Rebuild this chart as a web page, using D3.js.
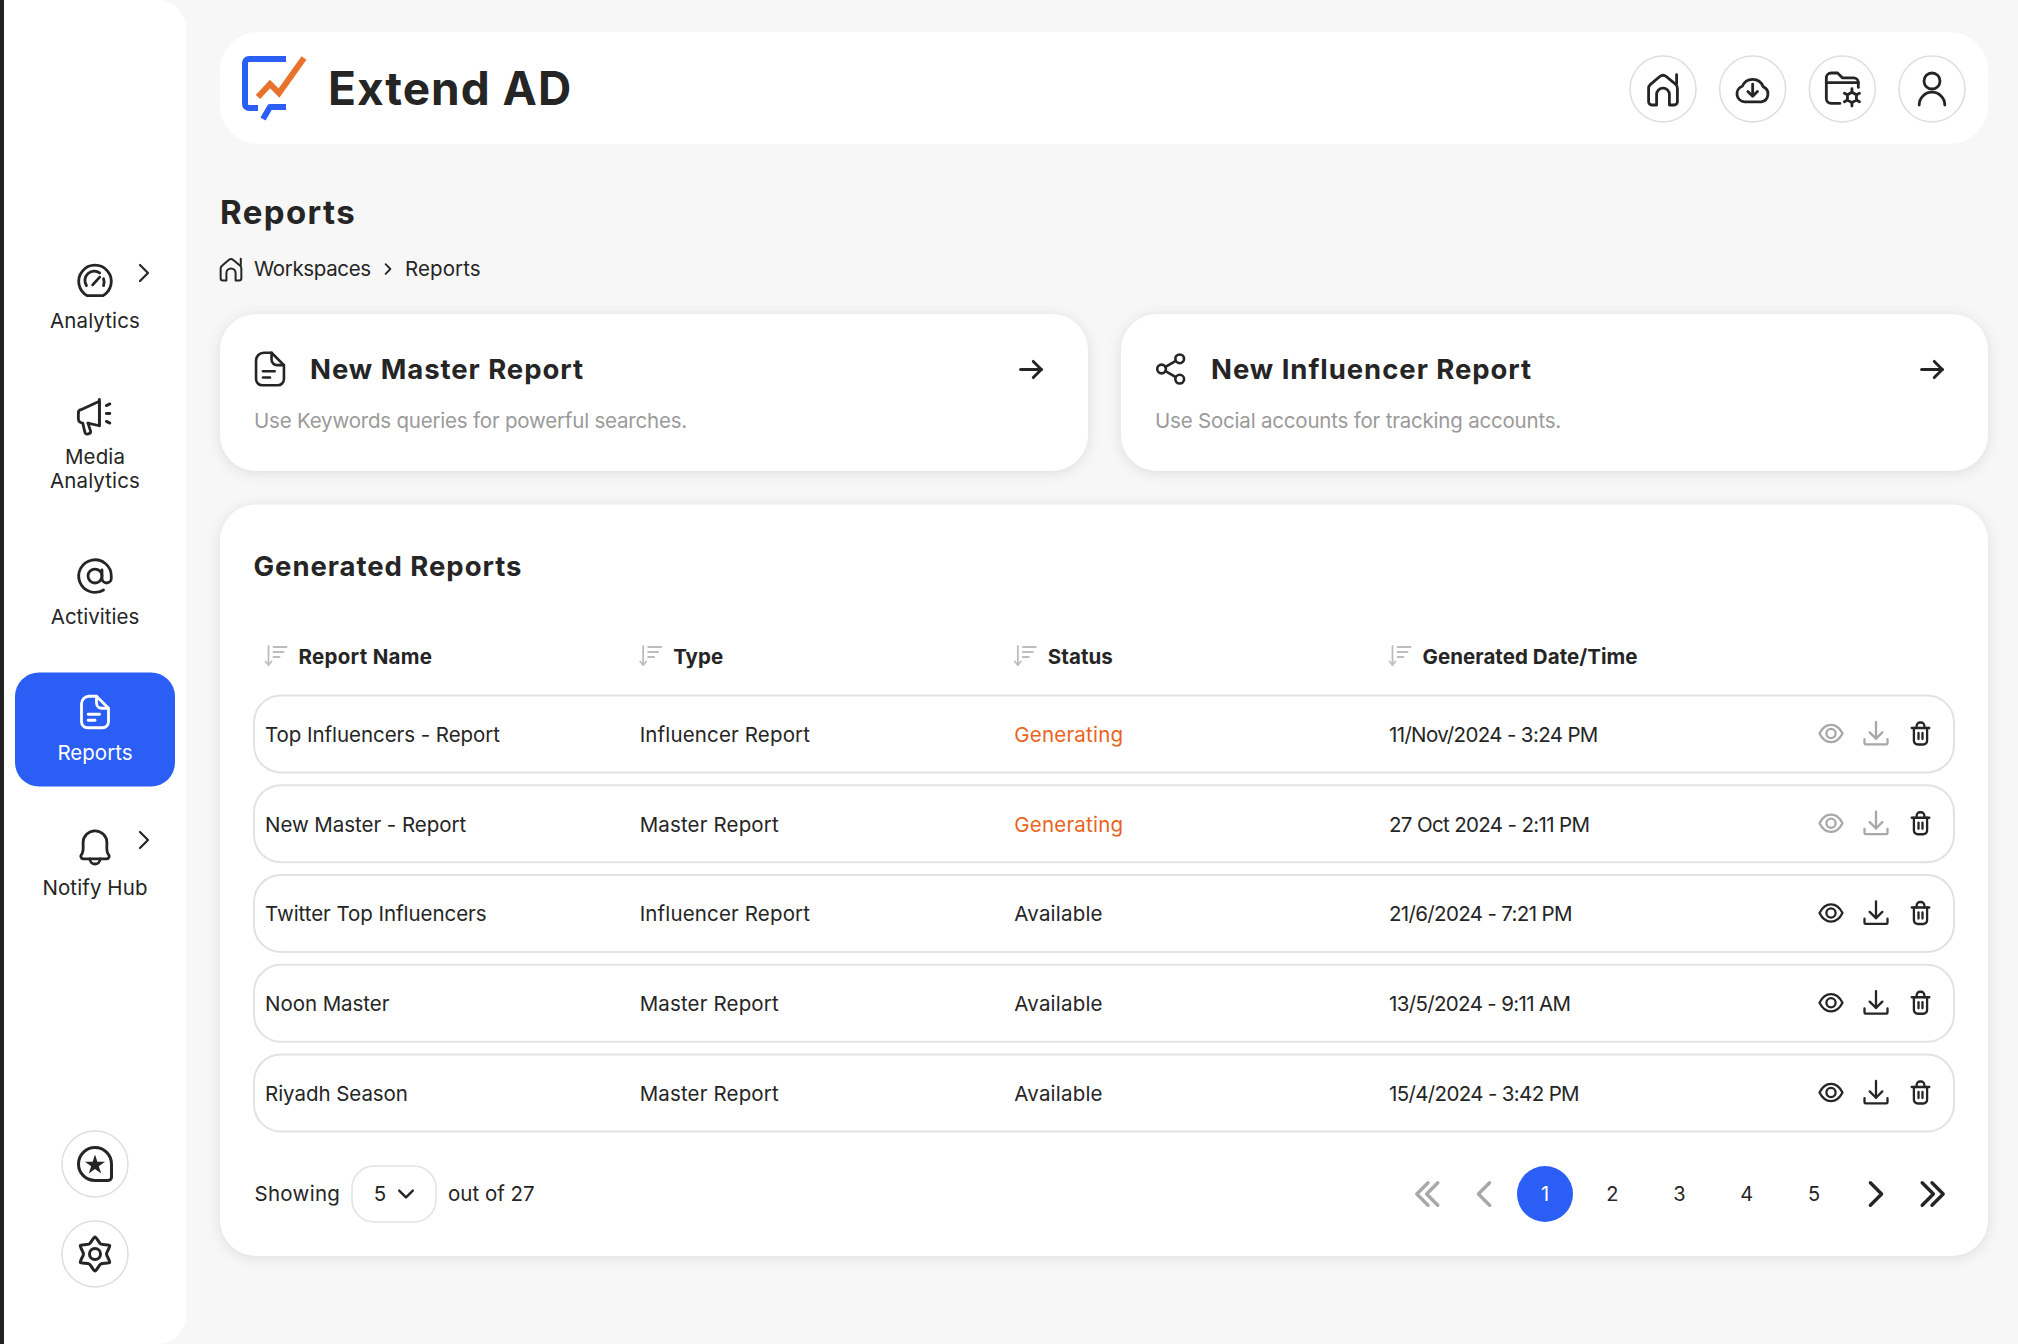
<!DOCTYPE html>
<html lang="en">
<head>
    <meta charset="UTF-8">
    <title>Extend AD - Reports</title>
    <script src="https://d3js.org/d3.v7.min.js"></script>
    <style>
        html, body { margin:0; padding:0; background:#f7f7f7; overflow:hidden; }
        svg { display:block; font-family:Inter, sans-serif; }
        .card { fill:#fff; filter:drop-shadow(0 2px 7px rgba(0,0,0,.10)); }
        .ico { fill:none; stroke-linecap:round; stroke-linejoin:round; }
    </style>
</head>
<body>
    <div id="app"></div>
    <script>
        // table content
        const columnLabels = ['Report Name', 'Type', 'Status', 'Generated Date/Time'];
        const reportNames = ['Top Influencers - Report', 'New Master - Report', 'Twitter Top Influencers', 'Noon Master', 'Riyadh Season'];
        const reportTypes = ['Influencer Report', 'Master Report', 'Influencer Report', 'Master Report', 'Master Report'];
        const reportStatus = ['Generating', 'Generating', 'Available', 'Available', 'Available'];
        const reportDates = ['11/Nov/2024 - 3:24 PM', '27 Oct 2024 - 2:11 PM', '21/6/2024 - 7:21 PM', '13/5/2024 - 9:11 AM', '15/4/2024 - 3:42 PM'];
        const pageLabels = ['1', '2', '3', '4', '5'];
        const headerIcons = ['home', 'cloud', 'folder', 'user'];

        const INK = '#252525', BLUE = '#2a5ef5', ORANGE = '#e8641b', MUTED = '#a8a8a8', LINE = '#e2e2e2';

        // icons drawn on a 24x24 box
        const icons = {
            home: ['M3 20V11.5C3 10.4 3.5 9.7 4.2 9.1L10 4.2C11.2 3.2 12.8 3.2 14 4.2L20 9.1C20.7 9.7 21 10.4 21 11.5V20A2 2 0 0 1 19 22H16V15.5A4 4 0 0 0 8 15.5V22H5A2 2 0 0 1 3 20Z', 'M20.5 3V8.5'],
            cloud: ['M7 20A5 5 0 0 1 5.5 10.3A7 7 0 0 1 18.5 10.5A5 5 0 0 1 17.5 20Z', 'M12 9V16M9 13.5L12 16.5L15 13.5'],
            folder: ['M10.5 21H5A3 3 0 0 1 2 18V5A3 3 0 0 1 5 2H9L12 5H19A3 3 0 0 1 22 8V11', 'M2 8H22', 'M18 14L20.8 15.6V18.9L18 20.5L15.2 18.9V15.6Z', 'M18 11.8V14M18 20.5V22.7M13.3 14.6L15.2 15.6M20.8 18.9L22.7 20M13.3 20L15.2 18.9M20.8 15.6L22.7 14.6'],
            user: ['M12 2A5 5 0 1 0 12 12A5 5 0 1 0 12 2Z', 'M4 22A8 8 0 0 1 20 22'],
            gauge: ['M7 21.5A10.5 10.5 0 1 1 17 21.5Z', 'M6.5 15A6 6 0 0 1 15 6.8', 'M17.5 10.5A6 6 0 0 1 17.5 15', 'M10.5 14.5L15 9.5'],
            mega: ['M2.5 9.5C2.5 8.5 3 8 4 7.8L14.5 3V17L8 15.5', 'M2.5 9.5V13C2.5 14.5 3.5 15.3 5 15.5L6.3 21C6.6 22.3 9.8 21.8 9.5 20.2L8 15.5', 'M14.5 2V17', 'M18.5 5.5L20.5 4.5M18.5 10H20.5M18.5 14.5L20.5 15.5'],
            at: ['M12 7.5A4.5 4.5 0 1 0 12 16.5A4.5 4.5 0 1 0 12 7.5Z', 'M16.5 8V13.5A3 3 0 0 0 22.5 13.5V12A10.5 10.5 0 1 0 17.5 21'],
            doc: ['M8 1.5H13L21 9.5V18.5A4 4 0 0 1 17 22.5H7A4 4 0 0 1 3 18.5V6.5A5 5 0 0 1 8 1.5Z', 'M13 1.5V6A3.5 3.5 0 0 0 16.5 9.5H21', 'M7.5 13.5H15', 'M7.5 17.5H12'],
            bell: ['M4 16.5C5.5 15 5 12.5 5 9.5A7 7 0 0 1 19 9.5C19 12.5 18.5 15 20 16.5C20.8 17.5 20 19 19 19H5C4 19 3.2 17.5 4 16.5Z', 'M9 19A3 3 0 0 0 15 19'],
            badge: ['M12 2A10 10 0 0 0 12 22H20A2 2 0 0 0 22 20V12A10 10 0 0 0 12 2Z'],
            share: ['M18 2A3 3 0 1 0 18 8A3 3 0 1 0 18 2Z', 'M18 16A3 3 0 1 0 18 22A3 3 0 1 0 18 16Z', 'M5.5 9A3 3 0 1 0 5.5 15A3 3 0 1 0 5.5 9Z', 'M8.2 10.6L15.3 6.4', 'M8.2 13.4L15.3 17.6'],
            arrow: ['M3 12H21', 'M14 5L21 12L14 19'],
            chev: ['M8 4L16 12L8 20'],
            chevL: ['M16 4L8 12L16 20'],
            dbl: ['M5 4L13 12L5 20', 'M12 4L20 12L12 20'],
            dblL: ['M19 4L11 12L19 20', 'M12 4L4 12L12 20'],
            down: ['M4 8L12 16L20 8'],
            eye: ['M2 12C5 6 9 4.5 12 4.5S19 6 22 12C19 18 15 19.5 12 19.5S5 18 2 12Z', 'M12 8A4 4 0 1 0 12 16A4 4 0 1 0 12 8Z'],
            save: ['M12 2V16.5', 'M6.5 11L12 16.5L17.5 11', 'M2 17V20.5A1 1 0 0 0 3 21.5H21A1 1 0 0 0 22 20.5V17'],
            trash: ['M4 7H20', 'M6 7V18.5A3.5 3.5 0 0 0 9.5 22H14.5A3.5 3.5 0 0 0 18 18.5V7', 'M8.5 7V5A3 3 0 0 1 11.5 2H12.5A3 3 0 0 1 15.5 5V7', 'M10.2 11.5V17', 'M13.8 11.5V17'],
            sort: ['M5 2V21', 'M2 17.5L5 21L8 17.5', 'M10 3H23', 'M10 8H20', 'M10 13H16']
        };

        const svg = d3.select('#app').append('svg').attr('width', 2018).attr('height', 1344);

        function drawIcon(parent, name, cx, cy, s, color, sw) {
            const g = parent.append('g').attr('class', 'ico')
                .attr('transform', `translate(${cx},${cy}) scale(${s}) translate(-12,-12)`)
                .attr('stroke', color).attr('stroke-width', sw / s);
            g.selectAll('path').data(icons[name]).join('path').attr('d', d => d);
            return g;
        }
        function label(parent, str, x, y, size, opts = {}) {
            return parent.append('text').text(str).attr('x', x).attr('y', y)
                .attr('font-size', size).attr('font-weight', opts.weight || 400)
                .attr('letter-spacing', opts.ls || 0)
                .attr('fill', opts.fill || INK).attr('text-anchor', opts.anchor || 'start');
        }
        function gearPath(r1, r2) {
            const pts = d3.range(12).map(i => [i * Math.PI / 6, i % 2 ? r2 : r1]);
            return d3.lineRadial().curve(d3.curveCardinalClosed.tension(.3))(pts);
        }

        // page frame
        svg.append('rect').attr('width', 2018).attr('height', 1344).attr('fill', '#f7f7f7');
        svg.append('rect').attr('x', -40).attr('y', 0).attr('width', 226).attr('height', 1344).attr('rx', 28).attr('fill', '#fff');
        svg.append('rect').attr('width', 4).attr('height', 1344).attr('fill', '#222');

        // top bar
        svg.append('rect').attr('class', 'card').attr('x', 220).attr('y', 32).attr('width', 1768).attr('height', 112).attr('rx', 38)
            .style('filter', 'none');
        const logo = svg.append('g').attr('class', 'ico').attr('stroke-width', 6);
        logo.append('path').attr('d', 'M286 59H249A4 4 0 0 0 245 63V104A4 4 0 0 0 249 108H258').attr('stroke', BLUE).style('stroke-linecap', 'butt');
        logo.append('path').attr('d', 'M286 107H270L263 119').attr('stroke', BLUE).style('stroke-linecap', 'butt');
        logo.append('path').attr('d', 'M304 58L279 93L270 84L258 97').attr('stroke', '#e8722c').style('stroke-linecap', 'butt').style('stroke-linejoin', 'miter');
        label(svg, 'Extend AD', 328, 105, 46, { weight: 700, ls: 1 });

        const xHead = d3.scalePoint().domain(headerIcons).range([1663, 1932]);
        headerIcons.forEach(k => {
            svg.append('circle').attr('cx', xHead(k)).attr('cy', 89).attr('r', 33).attr('fill', '#fff').attr('stroke', '#dedede').attr('stroke-width', 1.5);
            drawIcon(svg, k, xHead(k), 89, 1.6, INK, 2.8);
        });

        // sidebar
        const nav = svg.append('g');
        drawIcon(nav, 'gauge', 95, 281, 1.55, INK, 2.8);
        drawIcon(nav, 'chev', 144, 273, 1, INK, 2.2);
        label(nav, 'Analytics', 95, 328, 20.5, { anchor: 'middle', ls: .1 });
        drawIcon(nav, 'mega', 95, 417, 1.75, INK, 2.8);
        label(nav, 'Media', 95, 464, 20.5, { anchor: 'middle', ls: .1 });
        label(nav, 'Analytics', 95, 488, 20.5, { anchor: 'middle', ls: .1 });
        drawIcon(nav, 'at', 95, 576, 1.55, INK, 2.8);
        label(nav, 'Activities', 95, 624, 20.5, { anchor: 'middle' });
        nav.append('rect').attr('x', 15).attr('y', 672.5).attr('width', 160).attr('height', 114).attr('rx', 24).attr('fill', BLUE);
        drawIcon(nav, 'doc', 95, 712, 1.5, '#fff', 2.8);
        label(nav, 'Reports', 95, 760, 20.5, { anchor: 'middle', fill: '#fff' });
        drawIcon(nav, 'bell', 95, 847, 1.7, INK, 2.8);
        drawIcon(nav, 'chev', 144, 840, 1, INK, 2.2);
        label(nav, 'Notify Hub', 95, 895, 20.5, { anchor: 'middle', ls: .1 });

        nav.append('circle').attr('cx', 95).attr('cy', 1164).attr('r', 33).attr('fill', '#fff').attr('stroke', '#dedede').attr('stroke-width', 1.5);
        drawIcon(nav, 'badge', 95, 1164, 1.65, INK, 3);
        nav.append('path').attr('transform', 'translate(95,1165)').attr('fill', INK)
            .attr('d', d3.symbol(d3.symbolStar, 125)());
        nav.append('circle').attr('cx', 95).attr('cy', 1254).attr('r', 33).attr('fill', '#fff').attr('stroke', '#dedede').attr('stroke-width', 1.5);
        nav.append('path').attr('transform', 'translate(95,1254)').attr('fill', 'none').attr('stroke', INK).attr('stroke-width', 3).attr('d', gearPath(17, 11.5));
        nav.append('circle').attr('cx', 95).attr('cy', 1254).attr('r', 5.5).attr('fill', 'none').attr('stroke', INK).attr('stroke-width', 3);

        // title and breadcrumb
        label(svg, 'Reports', 220, 224, 33, { weight: 700, ls: 1.4 });
        drawIcon(svg, 'home', 231, 269, 1.15, INK, 2);
        label(svg, 'Workspaces', 254, 276, 20.5, { ls: -.35 });
        drawIcon(svg, 'chev', 388, 269, .6, INK, 1.8);
        label(svg, 'Reports', 405, 276, 20.5, { ls: .1 });

        // two action cards
        const actionCards = [
            { x: 220, w: 868, icon: 'doc', iconX: 270, iconS: 1.55, title: 'New Master Report', sub: 'Use Keywords queries for powerful searches.' },
            { x: 1121, w: 867, icon: 'share', iconX: 1171, iconS: 1.45, title: 'New Influencer Report', sub: 'Use Social accounts for tracking accounts.' }
        ];
        actionCards.forEach(c => {
            svg.append('rect').attr('class', 'card').attr('x', c.x).attr('y', 314).attr('width', c.w).attr('height', 157).attr('rx', 36);
            drawIcon(svg, c.icon, c.iconX, 369, c.iconS, INK, 2.6);
            label(svg, c.title, c.x + 90, 379, 27.5, { weight: 700, ls: .95 });
            label(svg, c.sub, c.x + 34, 428, 20.5, { fill: '#9a9a9a', ls: -.2 });
            drawIcon(svg, 'arrow', c.x + 811, 369.5, 1.15, INK, 3);
        });

        // table card
        svg.append('rect').attr('class', 'card').attr('x', 220).attr('y', 504.5).attr('width', 1768).attr('height', 751.5).attr('rx', 36);
        label(svg, 'Generated Reports', 253.5, 576, 27.5, { weight: 700, ls: .95 });

        const xCol = d3.scalePoint().domain(columnLabels).range([265, 1389]);
        const yRow = d3.scaleBand().domain(d3.range(reportNames.length)).range([695.5, 1131.5]).paddingInner(.1425);

        const head = svg.selectAll('g.head').data(columnLabels).join('g').attr('class', 'head');
        head.each(function (d) {
            drawIcon(d3.select(this), 'sort', xCol(d) + 10.5, 656, 1, '#bdbdbd', 1.8);
            label(d3.select(this), d, xCol(d) + 33.5, 664, 20.5, { weight: 700, ls: d === columnLabels[0] ? .3 : .05 });
        });

        const rows = svg.selectAll('g.row').data(reportNames).join('g').attr('class', 'row')
            .attr('transform', (d, i) => `translate(0,${yRow(i)})`);
        rows.append('rect').attr('x', 254).attr('y', 0).attr('width', 1700).attr('height', yRow.bandwidth()).attr('rx', 27)
            .attr('fill', '#fff').attr('stroke', LINE).attr('stroke-width', 2);
        const textY = yRow.bandwidth() / 2 + 8;
        rows.append('text').text(d => d).attr('x', xCol(columnLabels[0])).attr('y', textY).attr('font-size', 20.5).attr('letter-spacing', -.05).attr('fill', INK);
        rows.append('text').text((d, i) => reportTypes[i]).attr('x', xCol(columnLabels[1])).attr('y', textY).attr('font-size', 20.5).attr('letter-spacing', .15).attr('fill', INK);
        rows.append('text').text((d, i) => reportStatus[i]).attr('x', xCol(columnLabels[2])).attr('y', textY).attr('font-size', 20.5).attr('letter-spacing', .2)
            .attr('fill', (d, i) => reportStatus[i] === 'Generating' ? ORANGE : INK);
        rows.append('text').text((d, i) => reportDates[i]).attr('x', xCol(columnLabels[3])).attr('y', textY).attr('font-size', 20.5).attr('letter-spacing', -.65).attr('fill', INK);
        rows.each(function (d, i) {
            const row = d3.select(this), mid = yRow.bandwidth() / 2 - .5;
            const off = reportStatus[i] === 'Generating' ? MUTED : INK;
            drawIcon(row, 'eye', 1831, mid, 1.15, off, 2.3);
            drawIcon(row, 'save', 1876, mid, 1.15, off, 2.3);
            drawIcon(row, 'trash', 1920.5, mid, 1.1, INK, 2.3);
        });

        // footer
        label(svg, 'Showing', 254.5, 1201, 20.5, { ls: .3 });
        svg.append('rect').attr('x', 352).attr('y', 1166).attr('width', 84).attr('height', 56).attr('rx', 22).attr('fill', '#fff').attr('stroke', LINE).attr('stroke-width', 1.5);
        label(svg, '5', 380, 1201, 20.5, { anchor: 'middle' });
        drawIcon(svg, 'down', 406, 1194, .85, INK, 2.4);
        label(svg, 'out of 27', 448, 1201, 20.5);

        const xPage = d3.scalePoint().domain(pageLabels).range([1545, 1814]);
        drawIcon(svg, 'dblL', 1428, 1194, 1.4, MUTED, 3.4);
        drawIcon(svg, 'chevL', 1484, 1194, 1.4, MUTED, 3.4);
        svg.append('circle').attr('cx', xPage('1')).attr('cy', 1194).attr('r', 28).attr('fill', BLUE);
        svg.selectAll('text.page').data(pageLabels).join('text').attr('class', 'page').text(d => d)
            .attr('x', d => xPage(d)).attr('y', 1201).attr('font-size', 20).attr('text-anchor', 'middle')
            .attr('fill', d => d === '1' ? '#fff' : INK);
        drawIcon(svg, 'chev', 1876, 1194, 1.4, INK, 3.4);
        drawIcon(svg, 'dbl', 1932, 1194, 1.4, INK, 3.4);
    </script>
</body>
</html>
